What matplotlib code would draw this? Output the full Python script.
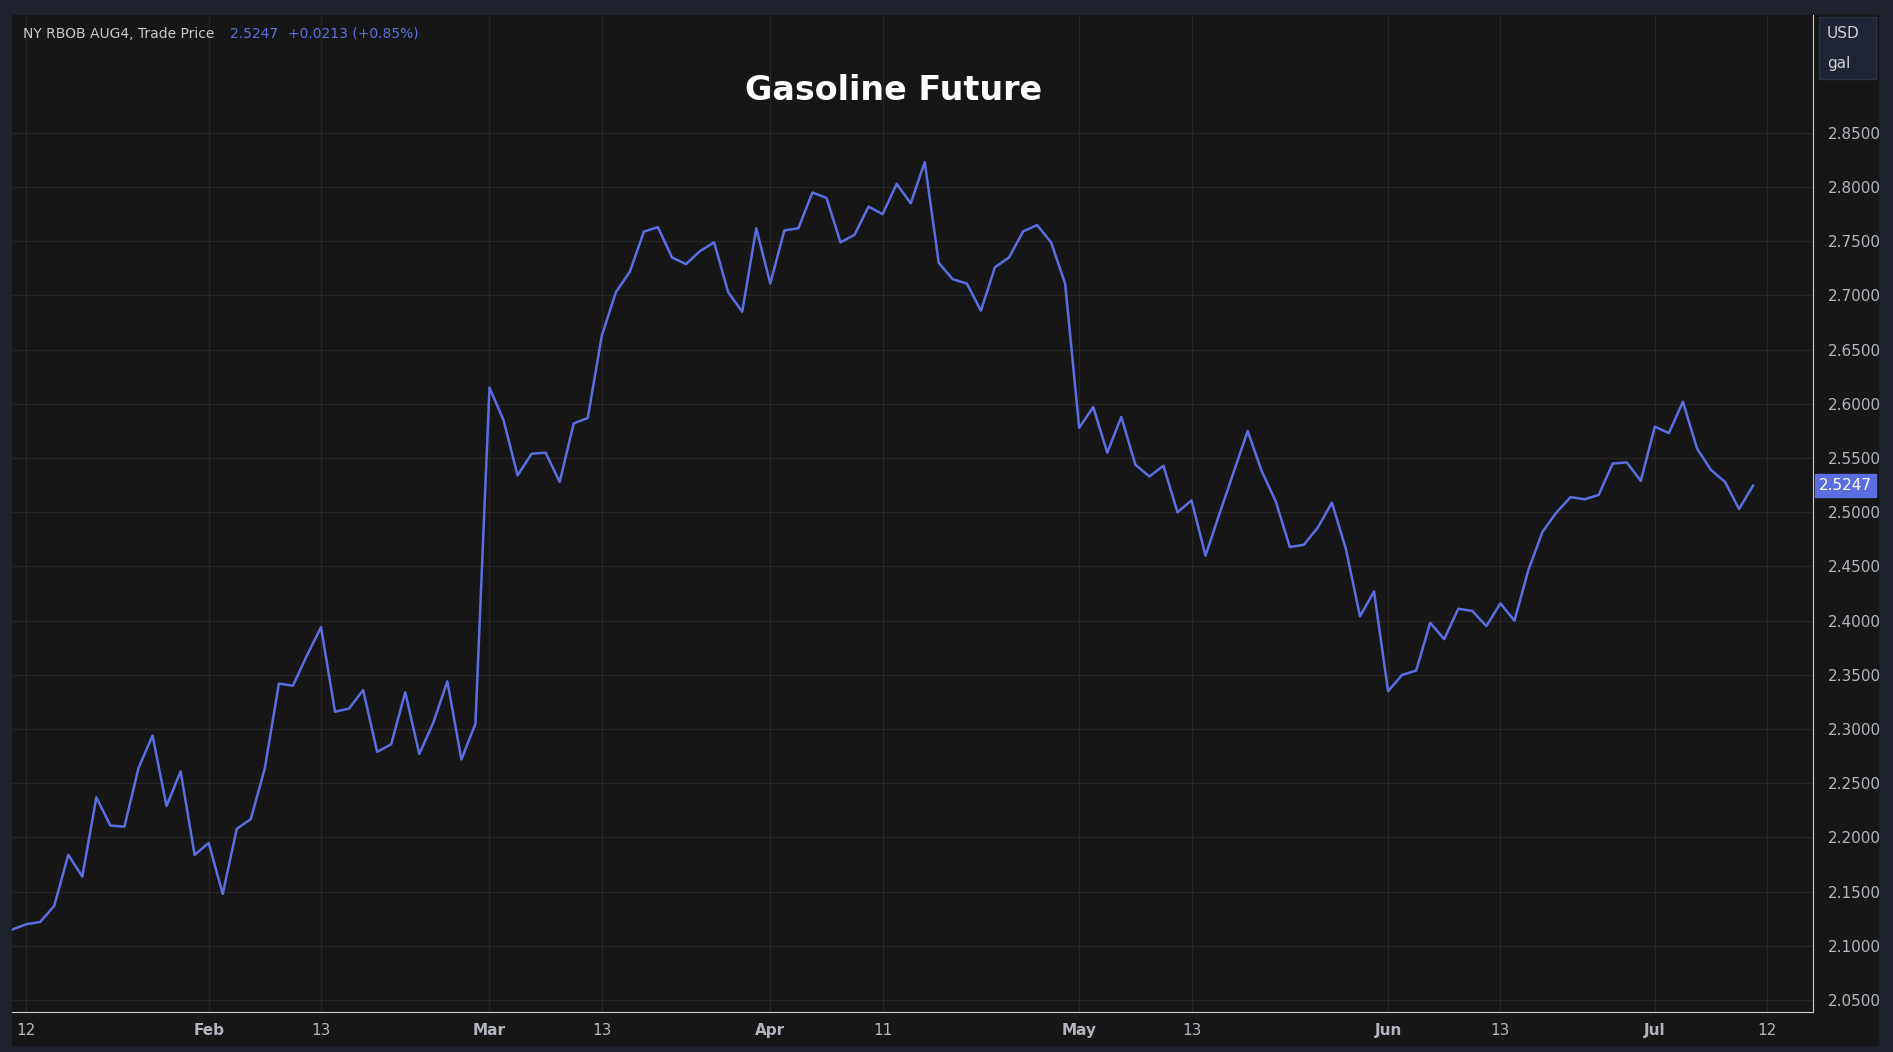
import matplotlib
matplotlib.use("Agg")
import matplotlib.pyplot as plt
import pandas as pd
import numpy as np

holidays = ["2024-01-15", "2024-02-19", "2024-03-29", "2024-05-27", "2024-06-19", "2024-07-04"]
prices = [2.115, 2.120, 2.122, 2.137, 2.184, 2.164, 2.237, 2.211, 2.210, 2.264,
          2.294, 2.229, 2.261, 2.184, 2.195, 2.148, 2.208, 2.217, 2.264, 2.342,
          2.340, 2.368, 2.394, 2.316, 2.319, 2.336, 2.279, 2.286, 2.334, 2.277,
          2.306, 2.344, 2.272, 2.305, 2.615, 2.585, 2.534, 2.554, 2.555, 2.528,
          2.582, 2.587, 2.663, 2.703, 2.722, 2.759, 2.763, 2.735, 2.729, 2.741,
          2.749, 2.703, 2.685, 2.762, 2.711, 2.760, 2.762, 2.795, 2.790, 2.749,
          2.756, 2.782, 2.775, 2.803, 2.785, 2.823, 2.730, 2.715, 2.711, 2.686,
          2.726, 2.735, 2.759, 2.765, 2.749, 2.711, 2.578, 2.597, 2.555, 2.588,
          2.544, 2.533, 2.543, 2.500, 2.511, 2.460, 2.499, 2.537, 2.575, 2.538,
          2.510, 2.468, 2.470, 2.486, 2.509, 2.466, 2.404, 2.427, 2.335, 2.350,
          2.354, 2.398, 2.383, 2.411, 2.409, 2.395, 2.416, 2.400, 2.447, 2.482,
          2.500, 2.514, 2.512, 2.516, 2.545, 2.546, 2.529, 2.579, 2.573, 2.602,
          2.559, 2.539, 2.528, 2.503, 2.5247]
tick_dates = ["2024-01-12", "2024-02-01", "2024-02-13", "2024-03-01", "2024-03-13",
              "2024-04-01", "2024-04-11", "2024-05-01", "2024-05-13", "2024-06-03",
              "2024-06-13", "2024-07-01", "2024-07-12"]
tick_labels = ["12", "Feb", "13", "Mar", "13", "Apr", "11", "May", "13", "Jun", "13", "Jul", "12"]
y_ticks = [2.05, 2.10, 2.15, 2.20, 2.25, 2.30, 2.35, 2.40, 2.45, 2.50, 2.55, 2.60,
           2.65, 2.70, 2.75, 2.80, 2.85]

dates = pd.bdate_range("2024-01-11", "2024-07-31")
dates = dates[~dates.isin(pd.to_datetime(holidays))]
pos = {d: i for i, d in enumerate(dates)}
x = np.arange(len(prices))

BG = "#161616"
OUT = "#1e222d"
LINE = "#5b6ee1"
TXT = "#b2b5be"

fig = plt.figure(figsize=(18.93, 10.52), dpi=100, facecolor=OUT)
ax = fig.add_axes([0.0064, 0.038, 0.9516, 0.948])
ax.set_facecolor(BG)
ax.plot(x, prices, color=LINE, lw=1.8)
ax.set_xlim(0, 128.3)
ax.set_ylim(2.039, 2.959)

xt = [pos[pd.Timestamp(d)] for d in tick_dates]
ax.set_xticks(xt)
ax.set_xticklabels(tick_labels)
for lab, t in zip(ax.get_xticklabels(), tick_labels):
    lab.set_fontweight("bold" if not t.isdigit() else "normal")
ax.set_yticks(y_ticks)
ax.set_yticklabels([f"{v:.4f}" for v in y_ticks])
ax.yaxis.tick_right()
ax.tick_params(axis="both", colors=TXT, labelsize=11, length=0)
ax.tick_params(axis="y", pad=10)
ax.tick_params(axis="x", pad=8)
ax.grid(True, color="#262626", lw=0.9)
for s in ["top", "left"]:
    ax.spines[s].set_visible(False)
ax.spines["right"].set_color("#d0d0d0")
ax.spines["bottom"].set_color("#d0d0d0")

fig.patches.append(plt.Rectangle((0.958, 0.0069), 0.034, 0.979, transform=fig.transFigure,
                                 color=BG, zorder=-1))
fig.patches.append(plt.Rectangle((0.0064, 0.0069), 0.9516, 0.031, transform=fig.transFigure,
                                 color=BG, zorder=-1))

fig.text(0.472, 0.914, "Gasoline Future", ha="center", va="center", color="white",
         fontsize=24, fontweight="bold")

fig.text(0.012, 0.968, "NY RBOB AUG4, Trade Price", color="#c8c8c8", fontsize=10, va="center")
fig.text(0.1215, 0.968, "2.5247", color=LINE, fontsize=10, va="center")
fig.text(0.152, 0.968, "+0.0213 (+0.85%)", color=LINE, fontsize=10, va="center")

ax.annotate("2.5247", xy=(1.0, prices[-1]), xycoords=("axes fraction", "data"),
            xytext=(4, 0), textcoords="offset points", ha="left", va="center",
            color="white", fontsize=11,
            bbox=dict(boxstyle="square,pad=0.25", fc=LINE, ec=LINE))

fig.text(0.9735, 0.968, "USD", color="#d0d0d0", fontsize=11, va="center", ha="center")
fig.text(0.9715, 0.940, "gal", color="#d0d0d0", fontsize=11, va="center", ha="center")
fig.patches.append(plt.Rectangle((0.961, 0.925), 0.030, 0.059, transform=fig.transFigure,
                                 fc="#1e2433", ec="#2c3140", zorder=0))

fig.savefig("out.png", dpi=100, facecolor=OUT)
